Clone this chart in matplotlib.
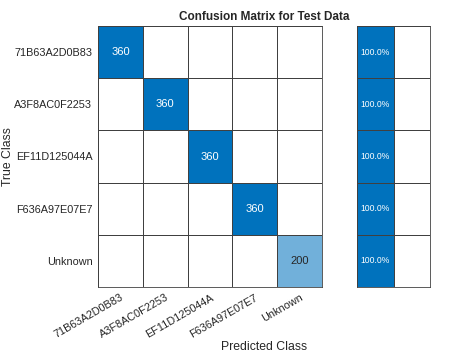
import numpy as np
import matplotlib
matplotlib.use("Agg")
import matplotlib.pyplot as plt
from matplotlib.colors import LinearSegmentedColormap

plt.rcParams['font.family'] = ['Liberation Sans', 'DejaVu Sans']

classes = ["71B63A2D0B83", "A3F8AC0F2253", "EF11D125044A", "F636A97E07E7", "Unknown"]
counts = np.array([
    [360, 0, 0, 0, 0],
    [0, 360, 0, 0, 0],
    [0, 0, 360, 0, 0],
    [0, 0, 0, 360, 0],
    [0, 0, 0, 0, 200],
])
row_correct = [100.0, 100.0, 100.0, 100.0, 100.0]
row_wrong = [0.0, 0.0, 0.0, 0.0, 0.0]

blue = (0.0, 0.447, 0.741)
cmap = LinearSegmentedColormap.from_list("mblue", [(1, 1, 1), blue])
edge = "#404040"
txt = "#262626"
lw = 0.6

fig = plt.figure(figsize=(4.74, 3.55), dpi=100)
ax = fig.add_axes([98 / 474, 1 - 287 / 355, 224 / 474, 261 / 355])
ax2 = fig.add_axes([357 / 474, 1 - 287 / 355, 73 / 474, 261 / 355])

n = len(classes)
ax.pcolormesh(counts, cmap=cmap, vmin=0, vmax=counts.max(),
              edgecolors=edge, linewidth=lw)
ax.set_xlim(0, n)
ax.set_ylim(n, 0)
for i in range(n):
    for j in range(n):
        v = counts[i, j]
        if v > 0:
            c = "white" if v / counts.max() > 0.6 else txt
            ax.text(j + 0.5, i + 0.5, str(v), ha="center", va="center",
                    fontsize=8, color=c)

ax.set_xticks(np.arange(n) + 0.5)
ax.set_xticklabels(classes, rotation=30, ha="right", rotation_mode="anchor")
ax.set_yticks(np.arange(n) + 0.5)
ax.set_yticklabels(classes)
ax.tick_params(length=0, labelsize=7.8, colors=txt, pad=4)
for s in ax.spines.values():
    s.set_color(edge)
    s.set_linewidth(lw)

summ = np.column_stack([row_correct, row_wrong])
ax2.pcolormesh(summ, cmap=cmap, vmin=0, vmax=100,
               edgecolors=edge, linewidth=lw)
ax2.set_xlim(0, 2)
ax2.set_ylim(n, 0)
for i in range(n):
    for j in range(2):
        v = summ[i, j]
        if v > 0:
            ax2.text(j + 0.5, i + 0.5, f"{v:.1f}%", ha="center", va="center",
                     fontsize=6.2, color="white")
ax2.set_xticks([])
ax2.set_yticks([])
for s in ax2.spines.values():
    s.set_color(edge)
    s.set_linewidth(lw)

fig.text(264 / 474, 1 - 17 / 355, "Confusion Matrix for Test Data",
         ha="center", va="center", fontsize=8.5, fontweight="bold", color=txt)
fig.text(264 / 474, 1 - 347 / 355, "Predicted Class",
         ha="center", va="center", fontsize=8.8, color=txt)
fig.text(8 / 474, 1 - 157 / 355, "True Class", rotation=90,
         ha="center", va="center", fontsize=8.8, color=txt)

fig.savefig("out.png", dpi=100)
